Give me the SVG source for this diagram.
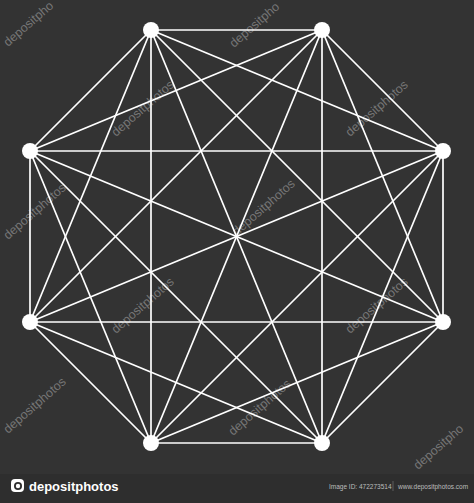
<svg xmlns="http://www.w3.org/2000/svg" width="474" height="503" viewBox="0 0 474 503">
<style>
.e{stroke:#ffffff;stroke-width:1.7;fill:none}
.n{fill:#ffffff}
.wm{font-family:"Liberation Sans",Arial,sans-serif;font-size:12.5px;fill:#8c8c8c;opacity:0.75}
.small{font-family:"Liberation Sans",Arial,sans-serif;font-size:6.5px;fill:#bdbdbd}
</style>
<rect width="474" height="503" fill="#333333"/>
<g id="watermarks">
<text class="wm" transform="translate(8,47) rotate(-41)">depositpho</text>
<text class="wm" transform="translate(234,48) rotate(-41)">depositpho</text>
<text class="wm" transform="translate(116,137) rotate(-41)">depositphotos</text>
<text class="wm" transform="translate(350,137) rotate(-41)">depositphotos</text>
<text class="wm" transform="translate(8,240) rotate(-41)">depositphotos</text>
<text class="wm" transform="translate(237,236) rotate(-41)">depositphotos</text>
<text class="wm" transform="translate(116,334) rotate(-41)">depositphotos</text>
<text class="wm" transform="translate(350,334) rotate(-41)">depositphotos</text>
<text class="wm" transform="translate(8,434) rotate(-41)">depositphotos</text>
<text class="wm" transform="translate(233,436) rotate(-41)">depositphotos</text>
<text class="wm" transform="translate(418,470) rotate(-41)">depositpho</text>
</g>
<g id="connectors">
<line class="e" x1="151" y1="30" x2="322" y2="30"/>
<line class="e" x1="151" y1="30" x2="443" y2="151"/>
<line class="e" x1="151" y1="30" x2="443" y2="322"/>
<line class="e" x1="151" y1="30" x2="322" y2="443"/>
<line class="e" x1="151" y1="30" x2="151" y2="443"/>
<line class="e" x1="151" y1="30" x2="30" y2="322"/>
<line class="e" x1="151" y1="30" x2="30" y2="151"/>
<line class="e" x1="322" y1="30" x2="443" y2="151"/>
<line class="e" x1="322" y1="30" x2="443" y2="322"/>
<line class="e" x1="322" y1="30" x2="322" y2="443"/>
<line class="e" x1="322" y1="30" x2="151" y2="443"/>
<line class="e" x1="322" y1="30" x2="30" y2="322"/>
<line class="e" x1="322" y1="30" x2="30" y2="151"/>
<line class="e" x1="443" y1="151" x2="443" y2="322"/>
<line class="e" x1="443" y1="151" x2="322" y2="443"/>
<line class="e" x1="443" y1="151" x2="151" y2="443"/>
<line class="e" x1="443" y1="151" x2="30" y2="322"/>
<line class="e" x1="443" y1="151" x2="30" y2="151"/>
<line class="e" x1="443" y1="322" x2="322" y2="443"/>
<line class="e" x1="443" y1="322" x2="151" y2="443"/>
<line class="e" x1="443" y1="322" x2="30" y2="322"/>
<line class="e" x1="443" y1="322" x2="30" y2="151"/>
<line class="e" x1="322" y1="443" x2="151" y2="443"/>
<line class="e" x1="322" y1="443" x2="30" y2="322"/>
<line class="e" x1="322" y1="443" x2="30" y2="151"/>
<line class="e" x1="151" y1="443" x2="30" y2="322"/>
<line class="e" x1="151" y1="443" x2="30" y2="151"/>
<line class="e" x1="30" y1="322" x2="30" y2="151"/>
</g>
<g id="n1"><circle class="n" cx="151" cy="30" r="8"/></g>
<g id="n2"><circle class="n" cx="322" cy="30" r="8"/></g>
<g id="n3"><circle class="n" cx="443" cy="151" r="8"/></g>
<g id="n4"><circle class="n" cx="443" cy="322" r="8"/></g>
<g id="n5"><circle class="n" cx="322" cy="443" r="8"/></g>
<g id="n6"><circle class="n" cx="151" cy="443" r="8"/></g>
<g id="n7"><circle class="n" cx="30" cy="322" r="8"/></g>
<g id="n8"><circle class="n" cx="30" cy="151" r="8"/></g>
<g id="footer">
<rect x="0" y="474" width="474" height="29" fill="#2e2e2e"/>
<rect x="11" y="479" width="13" height="13" rx="4" fill="#ffffff"/>
<circle cx="18" cy="486" r="4" fill="#2e2e2e"/>
<circle cx="18" cy="486" r="2.2" fill="#ffffff"/>
<text x="29" y="491" font-family="'Liberation Sans',Arial,sans-serif" font-size="13" font-weight="bold" fill="#ffffff">depositphotos</text>
<text class="small" x="329" y="489">Image ID: 472273514</text>
<line x1="393" y1="481" x2="393" y2="491" stroke="#6a6a6a" stroke-width="0.8"/>
<text class="small" x="398" y="489">www.depositphotos.com</text>
</g>
</svg>
